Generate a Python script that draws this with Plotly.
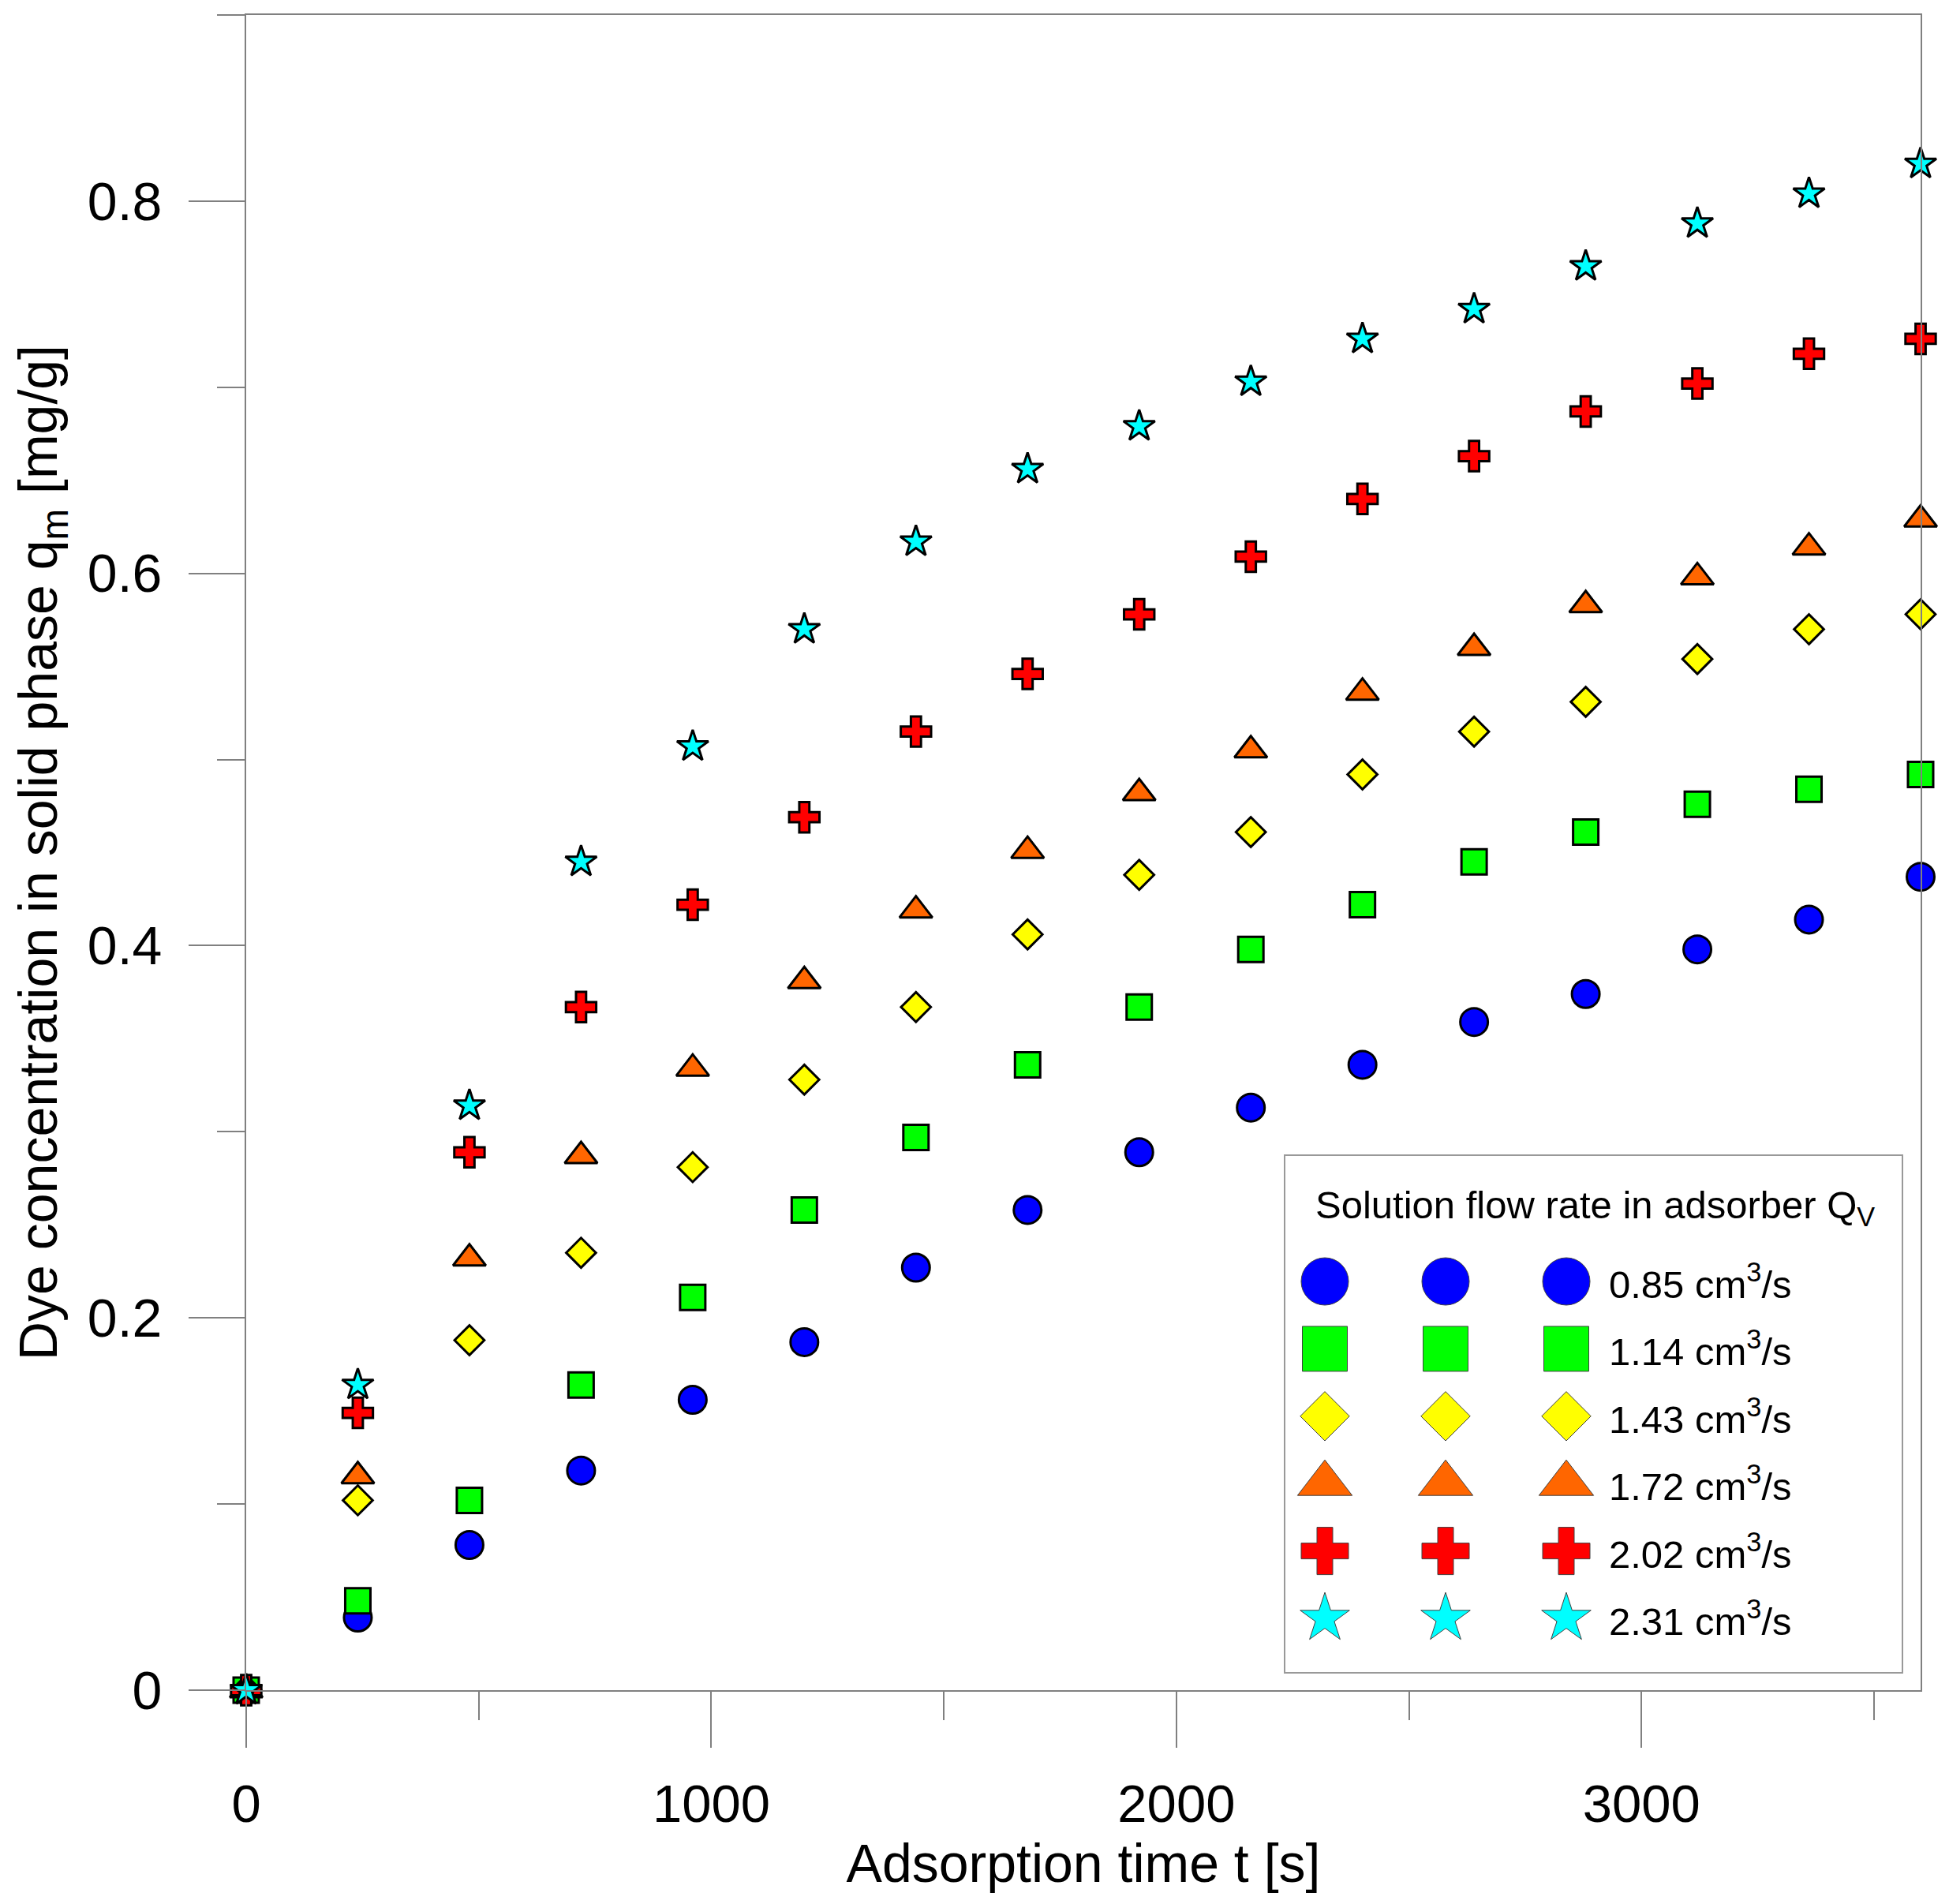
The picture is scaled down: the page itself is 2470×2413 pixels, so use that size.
import plotly.graph_objects as go

# ---------------- data ----------------
time_s = [0, 240, 480, 720, 960, 1200, 1440, 1680, 1920, 2160, 2400, 2640, 2880, 3120, 3360, 3600]

q_085 = [0, 0.039, 0.078, 0.118, 0.156, 0.187, 0.227, 0.258, 0.289, 0.313, 0.336, 0.359, 0.374, 0.398, 0.414, 0.437]
q_114 = [0, 0.048, 0.102, 0.164, 0.211, 0.258, 0.297, 0.336, 0.367, 0.398, 0.422, 0.445, 0.461, 0.476, 0.484, 0.492]
q_143 = [0, 0.102, 0.188, 0.235, 0.281, 0.328, 0.367, 0.406, 0.438, 0.461, 0.492, 0.515, 0.531, 0.554, 0.570, 0.578]
q_172 = [0, 0.115, 0.232, 0.287, 0.334, 0.381, 0.419, 0.451, 0.482, 0.505, 0.536, 0.560, 0.583, 0.598, 0.614, 0.629]
q_202 = [0, 0.149, 0.289, 0.367, 0.422, 0.469, 0.515, 0.546, 0.578, 0.609, 0.640, 0.663, 0.687, 0.702, 0.718, 0.726]
q_231 = [0, 0.164, 0.314, 0.445, 0.507, 0.570, 0.617, 0.656, 0.679, 0.703, 0.726, 0.742, 0.765, 0.788, 0.804, 0.820]

series_labels = ["0.85 cm<sup>3</sup>/s", "1.14 cm<sup>3</sup>/s", "1.43 cm<sup>3</sup>/s",
                 "1.72 cm<sup>3</sup>/s", "2.02 cm<sup>3</sup>/s", "2.31 cm<sup>3</sup>/s"]
series_values = [q_085, q_114, q_143, q_172, q_202, q_231]

x_title = "Adsorption time t [s]"
y_title = "Dye concentration in solid phase q<sub>m</sub> [mg/g]"
legend_title = "Solution flow rate in adsorber Q<sub>V</sub>"

# ---------------- styles ----------------
symbols = ["circle", "square", "diamond", "triangle-up", "cross", "star"]
colors = ["#0000FF", "#00FF00", "#FFFF00", "#FF6600", "#FF0000", "#00FFFF"]
data_sizes = [35, 32, 29, 36, 32, 30]
key_sizes = [60, 57, 48, 60, 50, 47]
FONT = "Liberation Sans, Arial, sans-serif"
GRAY = "#808080"

W, H = 2470, 2413
L, R, T, B = 312, 36, 19, 271
pw, ph = W - L - R, H - T - B

fig = go.Figure()

for lab, vals, sym, col, sz in zip(series_labels, series_values, symbols, colors, data_sizes):
    fig.add_trace(go.Scatter(
        x=time_s, y=vals, mode="markers", name=lab, showlegend=False,
        cliponaxis=False,
        marker=dict(symbol=sym, size=sz, color=col, line=dict(color="black", width=3)),
    ))

# ---------------- custom legend (keys on an auxiliary axis) ----------------
lx0, lx1, ly0, ly1 = 1629, 2410, 1465, 2119   # legend box in pixels
col_px = [50, 203, 356]
col_step = col_px[1] - col_px[0]
row_top = 159
row_step = 85.4
key_columns = [0, 1, 2]

for i, (lab, sym, col, ks) in enumerate(zip(series_labels, symbols, colors, key_sizes)):
    fig.add_trace(go.Scatter(
        x=key_columns, y=[i] * len(key_columns), xaxis="x2", yaxis="y2",
        mode="markers", showlegend=False, hoverinfo="skip", cliponaxis=False,
        marker=dict(symbol=sym, size=ks, color=col, line=dict(color="#404040", width=1)),
    ))
    fig.add_annotation(
        x=(408 - col_px[0]) / col_step, y=i, xref="x2", yref="y2",
        text=lab, showarrow=False, xanchor="left", yanchor="middle",
        font=dict(family=FONT, size=49, color="black"),
    )

fig.add_annotation(
    x=(392 - col_px[0]) / col_step, y=(66 - row_top) / row_step, xref="x2", yref="y2",
    text=legend_title, showarrow=False, xanchor="center", yanchor="middle",
    font=dict(family=FONT, size=49, color="black"),
)

lw = lx1 - lx0
lh = ly1 - ly0

fig.update_layout(
    width=W, height=H,
    margin=dict(l=L, r=R, t=T, b=B, pad=0),
    paper_bgcolor="white", plot_bgcolor="white",
    font=dict(family=FONT, color="black"),
    showlegend=False,
    xaxis=dict(
        range=[0, 3600], dtick=1000, tick0=0,
        ticks="outside", ticklen=71, tickwidth=2, tickcolor=GRAY,
        minor=dict(dtick=500, ticks="outside", ticklen=36, tickwidth=2, tickcolor=GRAY),
        showline=True, linecolor=GRAY, linewidth=2, mirror=True,
        showgrid=False, zeroline=False,
        tickfont=dict(family=FONT, size=67, color="black"),
        ticklabelstandoff=14,
        title=dict(text=x_title, font=dict(family=FONT, size=68, color="black"), standoff=0),
    ),
    yaxis=dict(
        range=[0, 0.9], dtick=0.2, tick0=0,
        ticks="outside", ticklen=71, tickwidth=2, tickcolor=GRAY,
        minor=dict(dtick=0.1, ticks="outside", ticklen=35, tickwidth=2, tickcolor=GRAY),
        showline=True, linecolor=GRAY, linewidth=2, mirror=True,
        showgrid=False, zeroline=False,
        tickfont=dict(family=FONT, size=68, color="black"),
        ticklabelstandoff=20,
        title=dict(text=y_title, font=dict(family=FONT, size=68, color="black"), standoff=16),
    ),
    xaxis2=dict(
        domain=[(lx0 - L) / pw, (lx1 - L) / pw], anchor="y2",
        range=[-col_px[0] / col_step, (lw - col_px[0]) / col_step],
        showline=True, linecolor="#999999", linewidth=2, mirror=True,
        showticklabels=False, ticks="", showgrid=False, zeroline=False, fixedrange=True,
    ),
    yaxis2=dict(
        domain=[(T + ph - ly1) / ph, (T + ph - ly0) / ph], anchor="x2",
        range=[(lh - row_top) / row_step, -row_top / row_step],
        showline=True, linecolor="#999999", linewidth=2, mirror=True,
        showticklabels=False, ticks="", showgrid=False, zeroline=False, fixedrange=True,
    ),
)

fig.write_html("out.html")
